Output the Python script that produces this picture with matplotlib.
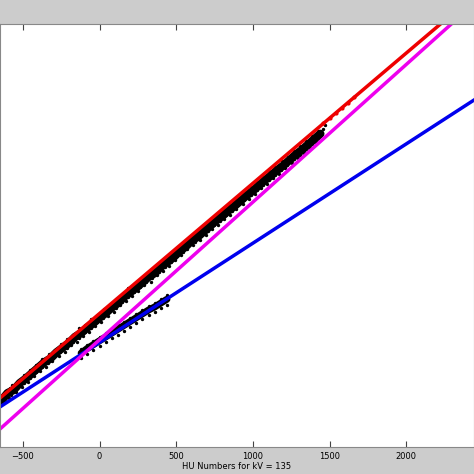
import numpy as np
import matplotlib.pyplot as plt

# fitted lines (slope, intercept)
red_fit = (0.846, 167)
magenta_fit = (0.894, -3)
blue_fit = (0.645, -21)

main_x = [-640, -600, -560, -520, -480, -440, -400, -360, -320, -280, -240, -200, -160, -120,
          -80, -40, 0, 40, 80, 120, 160, 200, 240, 280, 320, 360, 400, 440, 480, 520, 560,
          600, 640, 680, 720, 760, 800, 840, 880, 920, 960, 1000, 1040, 1080, 1120, 1160,
          1200, 1240, 1280, 1320, 1360, 1400, 1440]
main_y = [-400, -350, -330, -285, -255, -220, -185, -150, -125, -85, -55, -25, 15, 40,
          75, 105, 140, 170, 205, 235, 275, 305, 335, 370, 405, 430, 470, 500, 530, 570, 600,
          640, 665, 700, 735, 770, 800, 835, 865, 900, 935, 965, 1000, 1035, 1065, 1100,
          1130, 1165, 1200, 1230, 1265, 1300, 1335]
low_x = [-120, -80, -40, 0, 40, 80, 120, 160, 200, 240, 280, 320, 360, 400, 440]
low_y = [-90, -60, -35, -10, 15, 40, 65, 90, 115, 140, 165, 190, 210, 235, 260]
red_dots_x = [1460, 1500, 1540, 1580, 1620, 1660]

fig = plt.figure(figsize=(4.74, 4.74), dpi=100, facecolor='#cccccc')
ax = fig.add_axes([0, 0.057, 1, 0.892])
ax.set_facecolor('white')
ax.set_xlim(-649, 2442)
ax.set_ylim(-700, 2047)

# point clouds
ax.plot(main_x, main_y, color='black', lw=6, solid_capstyle='round', zorder=1)
ax.plot(low_x, low_y, color='black', lw=5, solid_capstyle='round', zorder=1)
for off in (-55, -30, 30, 55):
    ax.scatter(np.array(main_x) + off / 2, np.array(main_y) + off, s=2, color='black', zorder=1)
for off in (-35, 25):
    ax.scatter(low_x, np.array(low_y) + off, s=2, color='black', zorder=1)

xl = np.array([-649, 2442])
for (m, b), c in [(blue_fit, '#0000ee'), (magenta_fit, '#ee00ee'), (red_fit, '#ee0000')]:
    ax.plot(xl, m * xl + b, color=c, lw=2.5, zorder=2)
rx = np.array(red_dots_x)
ax.scatter(rx, red_fit[0] * rx + red_fit[1], s=4, color='#ee0000', zorder=3)

ax.set_xticks([-500, 0, 500, 1000, 1500, 2000])
ax.set_yticks([])
ax.tick_params(axis='x', direction='in', length=4, labelsize=6, top=True, color='#444444')
ax.set_xlabel('HU Numbers for kV = 135', fontsize=6, labelpad=1)
for s in ax.spines.values():
    s.set_color('#888888')

fig.savefig('out.png', dpi=100, facecolor=fig.get_facecolor())
